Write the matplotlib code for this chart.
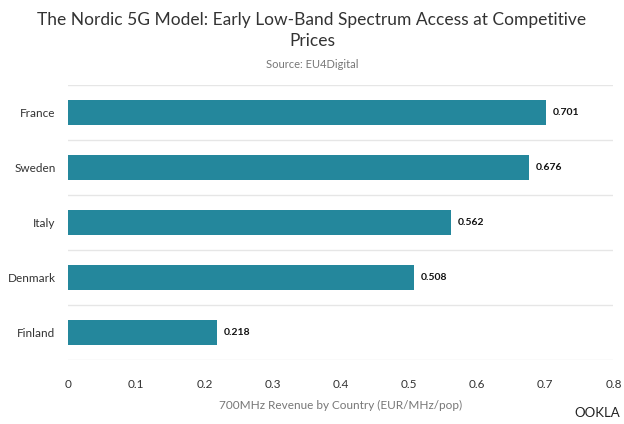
import matplotlib.pyplot as plt

# Data
countries = ['France', 'Sweden', 'Italy', 'Denmark', 'Finland']
revenue = [0.701, 0.676, 0.562, 0.508, 0.218]
xticks = [0, 0.1, 0.2, 0.3, 0.4, 0.5, 0.6, 0.7, 0.8]
xtick_labels = ['0', '0.1', '0.2', '0.3', '0.4', '0.5', '0.6', '0.7', '0.8']

plt.rcParams['font.family'] = ['Lato', 'DejaVu Sans']

fig = plt.figure(figsize=(6.24, 4.24), dpi=100)
ax = fig.add_axes([0.109, 0.151, 0.874, 0.649])

ypos = list(range(len(countries)))
ax.barh(ypos, revenue, height=0.46, color='#24879C', edgecolor='none')

for y, v in zip(ypos, revenue):
    ax.text(v + 0.01, y, f'{v:.3f}', va='center', ha='left',
            fontsize=7.5, fontweight='bold', color='#111111')

ax.set_ylim(len(countries) - 0.5, -0.5)
ax.set_xlim(0, 0.8)
ax.set_yticks(ypos)
ax.set_yticklabels(countries, fontsize=8.5, color='#333333')
ax.set_xticks(xticks)
ax.set_xticklabels(xtick_labels, fontsize=8.5, color='#333333')
ax.tick_params(length=0, pad=14, axis='x')
ax.tick_params(length=0, pad=9, axis='y')

# separators between categories
for y in [i - 0.5 for i in range(len(countries) + 1)]:
    ax.axhline(y, color='#e6e6e6', lw=1, zorder=0)

for s in ax.spines.values():
    s.set_visible(False)

ax.set_xlabel('700MHz Revenue by Country (EUR/MHz/pop)', fontsize=8.5,
              color='#777777', labelpad=7)

fig.text(0.5, 0.972, 'The Nordic 5G Model: Early Low-Band Spectrum Access at Competitive\nPrices',
         ha='center', va='top', fontsize=12.5, color='#333333', linespacing=1.4)
fig.text(0.5, 0.848, 'Source: EU4Digital', ha='center', va='center',
         fontsize=8, color='#777777')
fig.text(0.993, 0.012, 'OOKLA', ha='right', va='bottom', fontsize=9.5,
         color='#222222')

plt.savefig('out.png', dpi=100)
